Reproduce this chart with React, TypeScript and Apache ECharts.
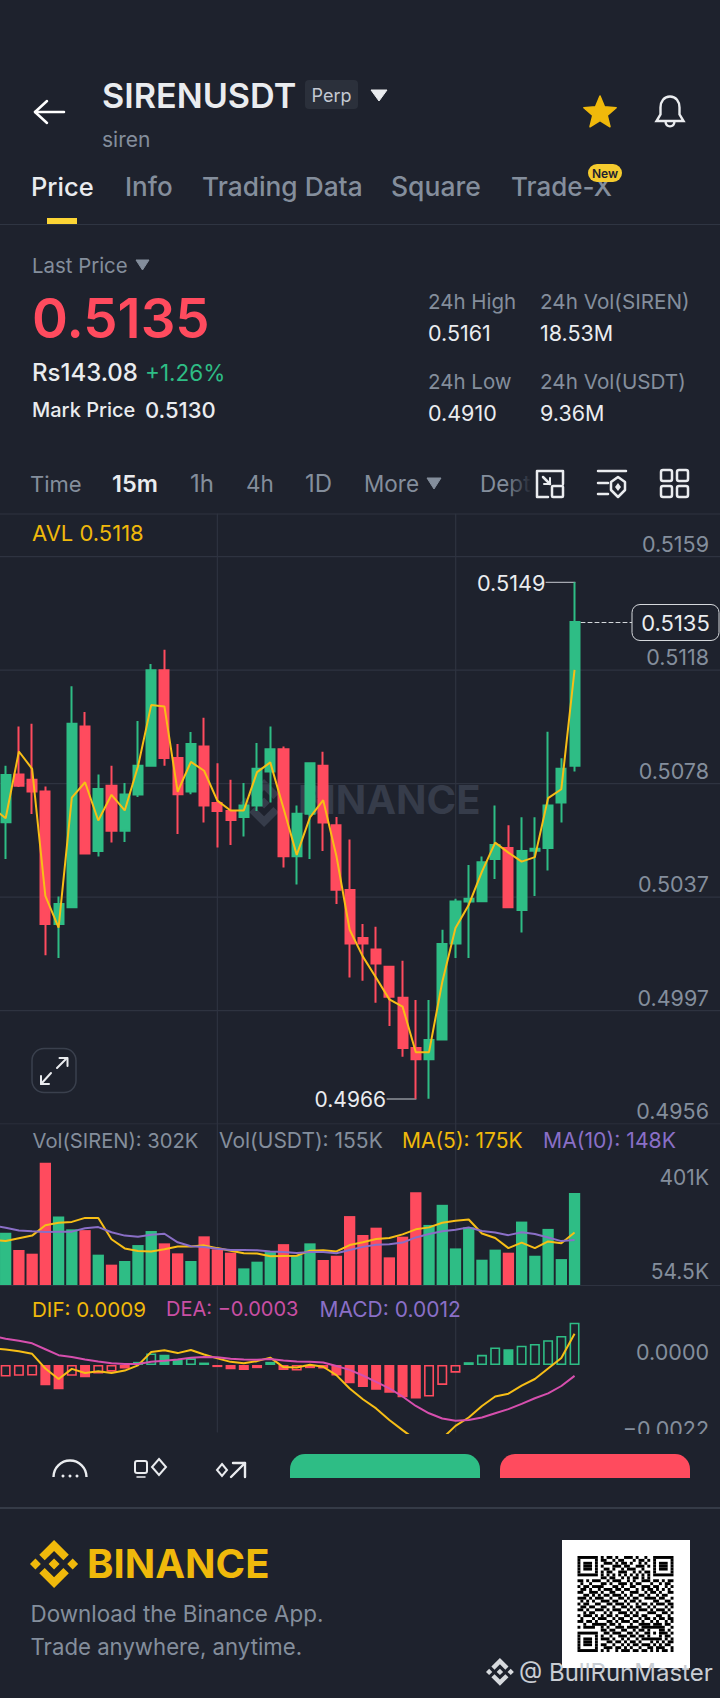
import React, { useEffect, useRef } from "react";
import * as echarts from "echarts";

const BG = "#1E222D";
const GREEN = "#2EBD85";
const RED = "#FF4B5E";
const YELLOW = "#F0B90B";
const PURPLE = "#8A6FC7";
const MAGENTA = "#D64FAE";
const GRAY = "#848E9C";
const WHITE = "#EAECEF";
const GRID = "#2E3340";
const FONT = "Inter";

// Candles, oldest first
const opens = [0.5064,0.50811,0.50792,0.5075,0.50276,0.50336,0.50982,0.50537,0.5077,0.50609,0.50739,0.50842,0.51184,0.5087,0.5075,0.50911,0.50709,0.5068,0.50659,0.507,0.50821,0.50901,0.50518,0.5067,0.50842,0.50629,0.50397,0.50226,0.50184,0.50123,0.50012,0.49832,0.49792,0.49862,0.50206,0.50356,0.50357,0.50508,0.50548,0.50326,0.50538,0.50548,0.5071,0.50842];
const closes = [0.50809,0.5077,0.5075,0.50276,0.50347,0.50992,0.50528,0.50759,0.50609,0.50739,0.50842,0.51184,0.5087,0.5074,0.5092,0.507,0.5068,0.50648,0.507,0.50831,0.50901,0.50518,0.5067,0.50851,0.50639,0.50398,0.50206,0.50206,0.50134,0.50015,0.49832,0.49792,0.49861,0.50204,0.50356,0.50366,0.50497,0.50558,0.50336,0.50537,0.50545,0.507,0.50831,0.51356];
const lows = [0.50508,0.50766,0.50669,0.50164,0.50154,0.50336,0.50528,0.50517,0.50567,0.50569,0.5073,0.50842,0.50842,0.50598,0.5074,0.50639,0.50549,0.50558,0.50589,0.5068,0.5071,0.50478,0.50417,0.50508,0.50537,0.50347,0.50084,0.50073,0.49994,0.49911,0.49801,0.4965,0.4965,0.49862,0.50154,0.50154,0.50357,0.50437,0.50336,0.50245,0.50376,0.50467,0.50639,0.50821];
const highs = [0.50842,0.50982,0.50992,0.50768,0.50374,0.51126,0.51034,0.50811,0.50842,0.5078,0.51002,0.51206,0.51257,0.5092,0.50963,0.51014,0.50851,0.50792,0.5078,0.50923,0.50982,0.50911,0.507,0.50851,0.50892,0.50659,0.50578,0.50276,0.50266,0.50123,0.50144,0.50004,0.50004,0.50255,0.50366,0.50487,0.50517,0.507,0.50629,0.50658,0.50658,0.50964,0.50869,0.51499];
// The lines also enter from one candle beyond the left edge, so each starts with that value
const priceMa = [0.50691,0.50654,0.50893,0.50831,0.50376,0.50263,0.50728,0.50783,0.50646,0.50738,0.50682,0.50839,0.51059,0.51054,0.50749,0.50856,0.50824,0.50717,0.50682,0.50682,0.50819,0.50854,0.5069,0.50523,0.50657,0.50719,0.50519,0.50255,0.50159,0.50083,0.50006,0.4998,0.49817,0.49817,0.50068,0.50261,0.50344,0.50463,0.50567,0.50531,0.50499,0.50515,0.50726,0.50758,0.51185];
const volumesK = [171.6,114.8,102.7,401,225,182.5,180,99.5,66.7,78.7,131,177,136.6,103.8,78.7,159.6,117,106,54.5,76.5,108,134,98,136.6,82,96,226,164,188,90.7,158.5,304,197,263,120,189,83,116,106,208,96,184,85,302];
const volMa5K = [147.6,144,153,162,196,204,207,220,220,150,120,111.5,110,117,126,126,130,121,112.6,104,103,94,95,96,112.6,113.7,110,131,140,151,154,166,182.5,189,204,211,215,169,154,121,139,121,143,137,172];
const volMa10K = [194.6,188,179,176,174,175,175,186,190,173,162,158.5,165,168,140,127,125,119,115,115,114,110,108,105,108,108,104,115,125,132,134,139,156,167,176,181,189,177,172,163.5,173,167,156,144,147.6];
const macdHist = [-0.00033,-0.00031,-0.0003,-0.00058,-0.00069,-0.00031,-0.00035,-0.00024,-0.00019,-0.0001,0.00009,0.00033,0.00029,0.00014,0.00019,0.00007,-0.00006,-0.00012,-0.00014,-0.00009,0.00009,-0.00014,-0.00016,-0.00009,-0.0001,-0.0003,-0.00052,-0.00063,-0.00071,-0.00079,-0.00092,-0.00096,-0.0009,-0.00057,-0.00022,0.00008,0.00029,0.0005,0.00045,0.00055,0.0006,0.00071,0.00083,0.00121];
const macdHollow = [1,1,1,0,0,1,0,1,1,0,0,1,0,0,1,0,0,0,0,0,0,0,1,0,0,0,0,0,0,0,0,0,1,1,1,0,1,1,0,1,1,1,1,1];
const difLine = [0.00048,0.00044,0.00039,0.00032,-0.0001,-0.0004,-0.00011,-0.00023,-0.00018,-0.00023,-0.00016,-0.00001,0.00037,0.00042,0.00034,0.00043,0.0003,0.00019,0.00009,0.00005,0.00011,0.00021,-0.00006,-0.00007,0.00001,-0.00005,-0.00029,-0.00067,-0.00098,-0.00124,-0.00157,-0.00186,-0.00214,-0.00233,-0.0021,-0.00174,-0.0015,-0.00117,-0.0009,-0.00082,-0.00059,-0.0004,-0.0001,0.0002,0.00089];
const deaLine = [0.00083,0.00075,0.00069,0.00062,0.00045,0.00028,0.00023,0.00016,0.0001,0.00005,0.00003,0.00003,0.00009,0.00012,0.00016,0.00021,0.00023,0.00022,0.00018,0.00016,0.00015,0.00017,0.00013,0.0001,0.00009,0.00007,-0.00003,-0.00014,-0.0003,-0.00048,-0.00067,-0.0009,-0.00117,-0.00138,-0.00153,-0.00159,-0.00157,-0.0015,-0.00138,-0.00126,-0.00111,-0.00095,-0.00081,-0.0006,-0.00031];
const priceTicks = [0.4956,0.49966,0.50372,0.50778,0.51184,0.5159];
const macdTicks = [-0.0022,0];
const volumeTickLabels = ["401K","54.5K"];
const categories = Array.from({ length: 56 }, (_, i) => String(i - 1));

const statRows = [["24h High","0.5161","24h Vol(SIREN)","18.53M"],["24h Low","0.4910","24h Vol(USDT)","9.36M"]];
const QR = [
"111111101011010011101001001111111",
"100000101100101100010110101000001",
"101110100111010110100101001011101",
"101110101000111011001110101011101",
"101110100110100101110010001011101",
"100000101011001110010101101000001",
"111111101010101010101010101111111",
"000000001101100101011010100000000",
"110101110010111001010011101101011",
"010010001101001110101100010010110",
"101101111000110100110011101100101",
"011010010111011011001010110101010",
"110011101001100100111001011010011",
"001101010110111010100110100101100",
"111010111001001101011001111011001",
"010101001110110010110100001100110",
"101100110011011101001011010111011",
"011011001100100110101100101000101",
"110100111010111001010111010111010",
"001011000101001110101000111001101",
"101110101011010011011011000110010",
"010001011100101100100101101011011",
"110110100011010111011010010100101",
"001001111101101000100111101110110",
"101111001010011101111011111111001",
"000000001101100110010110100011010",
"111111100110111001101001101011101",
"100000101001001110110110100010110",
"101110101110100101001011111110101",
"101110100011011010110100010101011",
"101110101100100101011011101010110",
"100000100111011010100100110111001",
"111111101010010111011011010101101",
];

const LOGO = "M38.73 53.2l24.59-24.58 24.6 24.6 14.3-14.31L63.32 0l-38.9 38.9zM0 63.31l14.3-14.31 14.31 14.31-14.31 14.3zM38.73 73.41l24.59 24.59 24.6-24.6 14.31 14.29-38.9 38.91-38.91-38.88zM98 63.31l14.3-14.31 14.31 14.3-14.31 14.32zM77.83 63.3L63.32 48.78 52.59 59.51l-1.24 1.23-2.54 2.54 14.51 14.5 14.51-14.47z";
const BELL = "M16 1C10 1 6.5 6 6.5 12V19L2.5 25.5H29.5L25.5 19V12C25.5 6 22 1 16 1ZM11.5 26C12 32.5 20 32.5 20.5 26";
echarts.graphic.registerShape("binanceLogo", echarts.graphic.extendPath(LOGO, {}));
echarts.graphic.registerShape("bellIcon", echarts.graphic.extendPath(BELL, {}));

function buildGraphics() {
  const g: any[] = [];
  const T = (text: string, x: number, y: number, fontSize: number, fill: string, fontWeight: any = 400, align = "left", z = 1) =>
    g.push({ type: "text", z, style: { text, x, y, fill, fontSize, fontWeight, fontFamily: FONT, align, verticalAlign: "middle" } });
  const L = (x1: number, y1: number, x2: number, y2: number, stroke: string, lineWidth = 1, z = 0, lineDash?: number[]) =>
    g.push({ type: "line", z, shape: { x1, y1, x2, y2 }, style: { stroke, lineWidth, lineDash, lineCap: "round" } });
  const P = (points: number[][], stroke: string, lineWidth = 2.5, z = 1) =>
    g.push({ type: "polyline", z, shape: { points }, style: { stroke, lineWidth, fill: "none", lineJoin: "round", lineCap: "round" } });
  const R = (x: number, y: number, width: number, height: number, r: any, style: any, z = 1) =>
    g.push({ type: "rect", z, shape: { x, y, width, height, r }, style });
  const TRI = (x1: number, x2: number, y1: number, y2: number, fill: string) =>
    g.push({ type: "polygon", z: 1, shape: { points: [[x1, y1], [x2, y1], [(x1 + x2) / 2, y2]] }, style: { fill, stroke: fill, lineWidth: 1, lineJoin: "round" } });

  // Header
  P([[47, 101], [35, 112], [47, 123]], "#FFFFFF");
  L(35, 112, 64, 112, "#FFFFFF", 2.5, 1);
  T("SIRENUSDT", 102, 95, 34.2, WHITE, 600);
  R(305, 80, 53, 29, 4, { fill: "#2B303B" });
  T("Perp", 331.5, 95.5, 18, "#C4C9D2", 400, "center");
  TRI(371, 387, 90, 101, WHITE);
  T("siren", 102, 139, 21, GRAY);
  const star: number[][] = [];
  for (let k = 0; k < 10; k++) {
    const r = k % 2 ? 7.6 : 17;
    const a = -Math.PI / 2 + (k * Math.PI) / 5;
    star.push([600 + r * Math.cos(a), 113 + r * Math.sin(a)]);
  }
  g.push({ type: "polygon", z: 1, shape: { points: star }, style: { fill: YELLOW, stroke: YELLOW, lineWidth: 1.5, lineJoin: "round" } });
  g.push({ type: "bellIcon", z: 1, x: 654, y: 95.5, scaleX: 1, scaleY: 1, style: { fill: "none", stroke: WHITE, lineWidth: 2.4 } });

  // Tabs
  T("Price", 31, 186, 25.5, WHITE, 500);
  T("Info", 125, 186, 26, GRAY, 500);
  T("Trading Data", 202, 186, 26.3, GRAY, 500);
  T("Square", 391, 186, 26.5, GRAY, 500);
  T("Trade-X", 511, 186, 26, GRAY, 500);
  R(588, 164, 34, 18, 9, { fill: "#F5CB2E" });
  T("New", 605, 173, 12, "#1E2330", 600, "center");
  R(47, 218, 30, 6, 0, { fill: "#FCD535" });
  L(0, 224.5, 720, 224.5, "#2F3542", 1);

  // Price block
  T("Last Price", 32, 265, 20.4, GRAY);
  TRI(136, 149, 260, 270, GRAY);
  T("0.5135", 32, 318, 54.5, RED, 600);
  T("Rs143.08", 32, 372, 24, WHITE, 500);
  T("+1.26%", 145, 372, 22.5, GREEN, 400);
  T("Mark Price", 32, 410, 20, WHITE, 500);
  T("0.5130", 145, 410, 22, WHITE, 500);
  statRows.forEach((row, k) => {
    const y = 301 + k * 80;
    T(row[0], 428, y, 20.5, GRAY);
    T(row[1], 428, y + 32, 21.5, WHITE);
    T(row[2], 540, y, 20.7, GRAY);
    T(row[3], 540, y + 32, 21.5, WHITE);
  });

  // Interval row
  T("Time", 30, 483.5, 22, GRAY);
  T("15m", 112, 483.5, 23.5, WHITE, 600);
  T("1h", 190, 483.5, 24, GRAY);
  T("4h", 246, 483.5, 22.5, GRAY);
  T("1D", 305, 483.5, 24, GRAY);
  T("More", 364, 483.5, 22.5, GRAY);
  TRI(427, 441, 478, 489, GRAY);
  T("Dept", 480, 483.5, 22.5, GRAY);
  R(505, 470, 32, 30, 0, { fill: new echarts.graphic.LinearGradient(0, 0, 1, 0, [{ offset: 0, color: "rgba(30,34,45,0)" }, { offset: 0.85, color: BG }, { offset: 1, color: BG }]) }, 2);
  P([[563, 484], [563, 471], [537, 471], [537, 497], [548, 497]], WHITE, 2.5, 3);
  R(552, 486, 11, 11, 1, { fill: "none", stroke: WHITE, lineWidth: 2.5 }, 3);
  P([[543, 477], [550, 484]], WHITE, 2.5, 3);
  P([[550, 478], [550, 484], [544, 484]], WHITE, 2, 3);
  L(598, 471, 626, 471, WHITE, 2.5, 3);
  L(598, 483, 608, 483, WHITE, 2.5, 3);
  L(598, 494, 608, 494, WHITE, 2.5, 3);
  g.push({ type: "polygon", z: 3, shape: { points: [[618, 477], [625, 482], [625, 490], [618, 497], [611, 490], [611, 482]] }, style: { fill: "none", stroke: WHITE, lineWidth: 2.5, lineJoin: "round" } });
  g.push({ type: "polygon", z: 3, shape: { points: [[618, 483], [621, 487], [618, 491], [615, 487]] }, style: { fill: WHITE } });
  [[661, 470], [677, 470], [661, 486], [677, 486]].forEach(([x, y]) =>
    R(x, y, 11, 11, 2, { fill: "none", stroke: WHITE, lineWidth: 2.5 }, 3));
  L(0, 514, 720, 514, GRID, 1.2);

  // Chart furniture
  L(217.35, 514, 217.35, 1432, GRID, 1.2);
  L(455.7, 514, 455.7, 1432, GRID, 1.2);
  g.push({ type: "binanceLogo", z: 0, x: 240, y: 779, scaleX: 0.38, scaleY: 0.38, style: { fill: "#363C4A" } });
  T("BINANCE", 298, 799, 40, "#363C4A", 700, "left", 0);
  T("AVL 0.5118", 32, 533, 22, YELLOW);
  // High and low annotations
  T("0.5149", 545.5, 583, 21.7, WHITE, 400, "right");
  L(546, 582.3, 575, 582.3, "#C7CBD1", 1);
  T("0.4966", 386, 1099, 21, WHITE, 400, "right");
  L(387, 1099, 416, 1099, "#C7CBD1", 1);
  // Last price tag
  L(581, 622.5, 632, 622.5, "#D5D8DC", 1, 1, [4, 3]);
  R(632, 604.5, 87, 36, 8, { fill: BG, stroke: "#D5D8DC", lineWidth: 1 });
  T("0.5135", 675.5, 622.5, 22, WHITE, 400, "center", 2);
  // Expand button
  R(32, 1048.5, 44, 44, 12, { fill: "none", stroke: "#3A404D", lineWidth: 1.5 });
  P([[57, 1068], [67, 1058]], WHITE, 2);
  P([[59.5, 1058], [67.5, 1058], [67.5, 1066]], WHITE, 2);
  P([[51, 1073], [41, 1084]], WHITE, 2);
  P([[41, 1076], [41, 1084], [49, 1084]], WHITE, 2);

  // Panel legends
  T("Vol(SIREN): 302K", 32.5, 1140, 20.2, GRAY);
  T("Vol(USDT): 155K", 219, 1140, 21, GRAY);
  T("MA(5): 175K", 402, 1140, 21, YELLOW);
  T("MA(10): 148K", 543, 1140, 21.2, PURPLE);
  T(volumeTickLabels[0], 709, 1177, 21, GRAY, 400, "right");
  T(volumeTickLabels[1], 709, 1271, 21, GRAY, 400, "right");
  T("DIF: 0.0009", 32, 1309, 20.6, YELLOW);
  T("DEA: −0.0003", 166, 1309, 20, "#C94FA4");
  T("MACD: 0.0012", 319.5, 1309, 21, PURPLE);

  // Everything under the chart covers its lower edge
  R(0, 1434, 720, 264, 0, { fill: BG }, 10);

  // Action bar
  R(290, 1454, 190, 24, [15, 15, 0, 0], { fill: GREEN }, 11);
  R(500, 1454, 190, 24, [15, 15, 0, 0], { fill: "#FF4B5E" }, 11);
  g.push({ type: "arc", z: 11, shape: { cx: 70, cy: 1477, r: 16.5, startAngle: Math.PI, endAngle: Math.PI * 2 }, style: { fill: "none", stroke: WHITE, lineWidth: 2.4 } });
  [63, 70, 77].forEach((x) => g.push({ type: "circle", z: 11, shape: { cx: x, cy: 1476, r: 1.5 }, style: { fill: WHITE } }));
  R(135, 1461, 12, 12, 2, { fill: "none", stroke: WHITE, lineWidth: 2 }, 11);
  L(137, 1477, 145, 1477, WHITE, 1.5, 11);
  g.push({ type: "polygon", z: 11, shape: { points: [[159, 1459], [166, 1467], [159, 1475], [152, 1467]] }, style: { fill: "none", stroke: WHITE, lineWidth: 2 } });
  g.push({ type: "polygon", z: 11, shape: { points: [[222, 1464], [227, 1470], [222, 1476], [217, 1470]] }, style: { fill: "none", stroke: WHITE, lineWidth: 2 } });
  P([[231, 1477], [245, 1463]], WHITE, 2.4, 11);
  P([[233, 1463], [245, 1463], [245, 1477]], WHITE, 2.4, 11);
  L(0, 1508, 720, 1508, "#353B47", 2, 11);

  // Footer
  g.push({ type: "binanceLogo", z: 11, x: 30, y: 1540, scaleX: 0.38, scaleY: 0.38, style: { fill: YELLOW } });
  T("BINANCE", 87, 1563, 40, YELLOW, 700, "left", 11);
  T("Download the Binance App.", 30.5, 1613, 22.4, GRAY, 400, "left", 11);
  T("Trade anywhere, anytime.", 30.5, 1646, 22.2, GRAY, 400, "left", 11);
  R(562, 1540, 128, 128, 0, { fill: "#FFFFFF" }, 11);
  const cell = 96 / 33;
  QR.forEach((row, r) => {
    let c = 0;
    while (c < row.length) {
      if (row[c] === "1") {
        let e = c;
        while (row[e + 1] === "1") e++;
        R(577.5 + c * cell, 1556 + r * cell, (e - c + 1) * cell, cell, 0, { fill: "#000000" }, 12);
        c = e + 1;
      } else c++;
    }
  });
  g.push({ type: "binanceLogo", z: 13, x: 486, y: 1658, scaleX: 0.22, scaleY: 0.22, style: { fill: "#D7DADE" } });
  T("@ BullRunMaster", 519, 1672, 24, "#C9CDD3", 400, "left", 13);
  return g;
}

const axisCommon = { axisLine: { show: false }, axisTick: { show: false }, splitLine: { show: false } };
const gridBox = { left: -14.175, width: 740.88, outerBoundsMode: "none" };

export default function App() {
  const ref = useRef<HTMLDivElement>(null);
  useEffect(() => {
    document.body.style.margin = "0";
    document.body.style.background = BG;
    const chart = echarts.init(ref.current!, undefined, { renderer: "svg" });
    const candleData: any[] = [["-", "-", "-", "-"]].concat(
      opens.map((o, i) => [o, closes[i], lows[i], highs[i]] as any)
    );
    const volData: any[] = ["-" as any].concat(
      volumesK.map((v, i) => ({ value: v, itemStyle: { color: closes[i] >= opens[i] ? GREEN : RED } })) as any
    );
    const histData: any[] = ["-" as any].concat(
      macdHist.map((v, i) => {
        const c = v >= 0 ? GREEN : RED;
        return {
          value: v,
          itemStyle: { color: macdHollow[i] ? "rgba(0,0,0,0)" : c, borderColor: c, borderWidth: 1.6 },
        };
      }) as any
    );
    const lineBase = { type: "line", symbol: "none", showSymbol: false, silent: true, z: 3 };
    const tickLabel = {
      inside: true,
      margin: 17.7,
      color: GRAY,
      fontSize: 21.5,
      fontFamily: FONT,
      verticalAlign: "bottom",
      padding: [0, 0, 2, 0],
    };
    chart.setOption({
      animation: false,
      backgroundColor: BG,
      graphic: { elements: buildGraphics() },
      grid: [
        { ...gridBox, top: 556.7, height: 567.3 },
        { ...gridBox, top: 1124, height: 161 },
        { ...gridBox, top: 1302, height: 140 },
      ],
      xAxis: [0, 1, 2].map((k) => ({
        type: "category",
        gridIndex: k,
        data: categories,
        boundaryGap: true,
        axisTick: { show: false },
        axisLabel: { show: false },
        splitLine: { show: false },
        axisLine: { show: k === 1, lineStyle: { color: GRID, width: 1.2 } },
      })),
      yAxis: [
        {
          type: "value",
          gridIndex: 0,
          position: "right",
          min: 0.4956,
          max: 0.5159,
          scale: true,
          ...axisCommon,
          axisLabel: { ...tickLabel, customValues: priceTicks, formatter: (v: number) => v.toFixed(4) },
        },
        { type: "value", gridIndex: 1, position: "right", min: 0, max: 528, ...axisCommon, axisLabel: { show: false } },
        {
          type: "value",
          gridIndex: 2,
          position: "right",
          min: -0.0022,
          max: 0.0018,
          ...axisCommon,
          axisLabel: { ...tickLabel, customValues: macdTicks, formatter: (v: number) => v.toFixed(4).replace("-", "−") },
        },
      ],
      series: [
        ...priceTicks.map((v) => ({
          ...lineBase,
          z: 1,
          xAxisIndex: 0,
          yAxisIndex: 0,
          data: categories.map(() => v),
          lineStyle: { color: GRID, width: 1.2 },
        })),
        {
          type: "candlestick",
          xAxisIndex: 0,
          yAxisIndex: 0,
          data: candleData,
          barWidth: 9.6,
          silent: true,
          z: 2,
          itemStyle: { color: GREEN, color0: RED, borderColor: GREEN, borderColor0: RED, borderWidth: 2 },
        },
        { ...lineBase, xAxisIndex: 0, yAxisIndex: 0, data: priceMa, lineStyle: { color: "#F7BE16", width: 2 } },
        { type: "bar", xAxisIndex: 1, yAxisIndex: 1, data: volData, barWidth: 11.3, silent: true, z: 2 },
        { ...lineBase, xAxisIndex: 1, yAxisIndex: 1, data: volMa5K, lineStyle: { color: "#F7BE16", width: 2 } },
        { ...lineBase, xAxisIndex: 1, yAxisIndex: 1, data: volMa10K, lineStyle: { color: PURPLE, width: 2 } },
        { type: "bar", xAxisIndex: 2, yAxisIndex: 2, data: histData, barWidth: 10, silent: true, z: 2 },
        { ...lineBase, xAxisIndex: 2, yAxisIndex: 2, data: difLine, lineStyle: { color: "#F7BE16", width: 2 } },
        { ...lineBase, xAxisIndex: 2, yAxisIndex: 2, data: deaLine, lineStyle: { color: MAGENTA, width: 2 } },
      ],
    });
    return () => chart.dispose();
  }, []);
  return <div ref={ref} style={{ width: 720, height: 1698 }} />;
}
